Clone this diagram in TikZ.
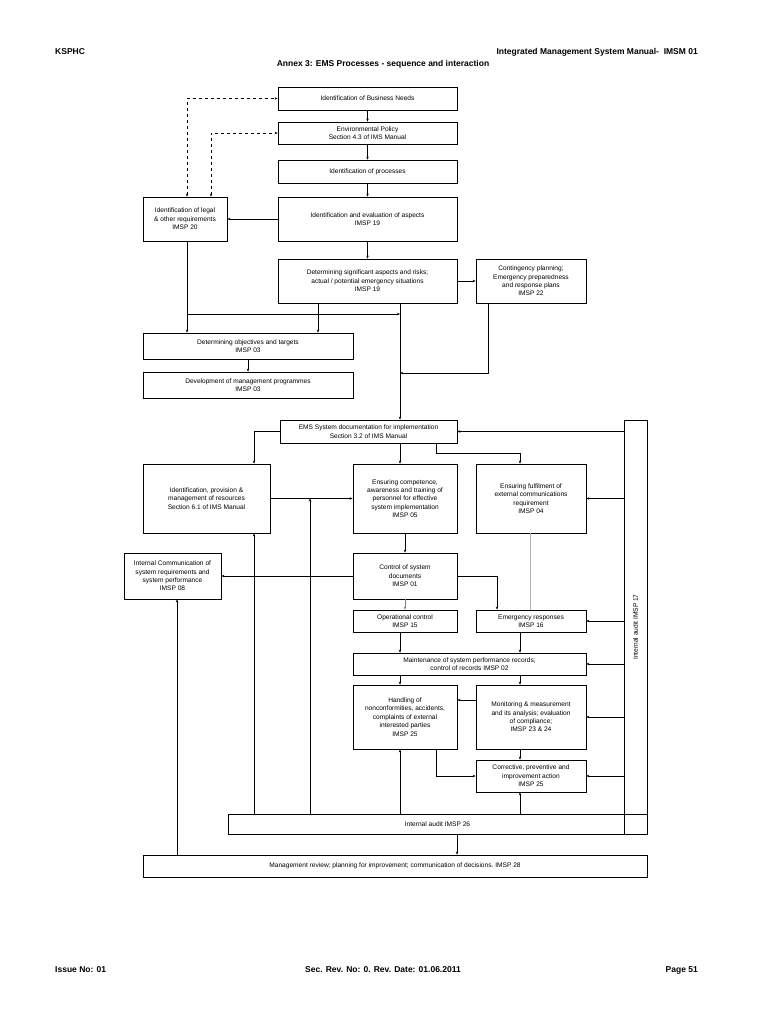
\documentclass[tikz,border=0pt]{standalone}
\usepackage{fontspec}
\setmainfont{Liberation Sans}
\usetikzlibrary{arrows.meta}

\tikzstyle{block}=[rectangle,
    draw=black,
    line width=0.8pt,
    inner sep=1pt,
    align=center,
    font=\fontsize{6.6}{8.4}\selectfont]
\tikzstyle{conn}=[draw,line width=0.7pt,-{Stealth[length=3pt,width=2.5pt]}]
\tikzstyle{dconn}=[conn,dashed,{Stealth[length=3pt,width=2.5pt]}-{Stealth[length=3pt,width=2.5pt]}]
\tikzstyle{head}=[font=\fontsize{8.5}{10}\selectfont\bfseries,inner sep=0pt]

\begin{document}
\begin{tikzpicture}[x=1pt,y=-1pt]
\useasboundingbox (0,0) rectangle (768,1024);
% header and footer
\node[head,anchor=west] (hl) at (55,52) {KSPHC};
\node[head,anchor=east] (hr) at (698,52) {Integrated Management System Manual-\ \ IMSM 01};
\node[head] (title) at (383,64) {Annex 3: EMS Processes - sequence and interaction};
\node[head,anchor=west] (fl) at (55,970) {Issue No: 01};
\node[head] (fc) at (383,970) {Sec. Rev. No: 0. Rev. Date: 01.06.2011};
\node[head,anchor=east] (fr) at (698,970) {Page 51};
% boxes
\node[block,minimum width=179,minimum height=23] (biz) at (367.5,98.5) {Identification of Business Needs};
\node[block,minimum width=179,minimum height=22] (pol) at (367.5,133) {Environmental Policy\\Section 4.3 of IMS Manual};
\node[block,minimum width=179,minimum height=23] (proc) at (367.5,171.5) {Identification of processes};
\node[block,minimum width=84,minimum height=44] (legal) at (185,219) {Identification of legal\\\& other requirements\\IMSP 20};
\node[block,minimum width=179,minimum height=44] (asp) at (367.5,219) {Identification and evaluation of aspects\\IMSP 19};
\node[block,minimum width=179,minimum height=44] (sig) at (367.5,281) {Determining significant aspects and risks;\\actual / potential emergency situations\\IMSP 19};
\node[block,minimum width=110,minimum height=44,inner sep=0pt] (cont) at (531,281) {Contingency planning;\\Emergency preparedness\\and response plans\\IMSP 22};
\node[block,minimum width=210,minimum height=26] (obj) at (248,346) {Determining objectives and targets\\IMSP 03};
\node[block,minimum width=210,minimum height=26] (dev) at (248,385) {Development of management programmes\\IMSP 03};
\node[block,minimum width=177,minimum height=23] (doc) at (368.5,431.5) {EMS System documentation for implementation\\Section 3.2 of IMS Manual};
\node[block,minimum width=127,minimum height=69] (res) at (206.5,498.5) {Identification, provision \&\\management of resources\\Section 6.1 of IMS Manual};
\node[block,minimum width=104,minimum height=69] (comp) at (405,498.5) {Ensuring competence,\\awareness and training of\\personnel for effective\\system implementation\\IMSP 05};
\node[block,minimum width=110,minimum height=69] (ext) at (531,498.5) {Ensuring fulfilment of\\external communications\\requirement\\IMSP 04};
\node[block,minimum width=97,minimum height=46] (ic) at (172.5,576) {Internal Communication of\\system requirements and\\system performance\\IMSP 08};
\node[block,minimum width=104,minimum height=46] (ctrl) at (405,576) {Control of system\\documents\\IMSP 01};
\node[block,minimum width=104,minimum height=22] (op) at (405,621) {Operational control\\IMSP 15};
\node[block,minimum width=110,minimum height=22] (emr) at (531,621) {Emergency responses\\IMSP 16};
\node[block,minimum width=233,minimum height=22] (maint) at (469.5,664) {Maintenance of system performance records;\\control of records IMSP 02};
\node[block,minimum width=104,minimum height=64,inner sep=0pt] (hand) at (405,717) {Handling of\\nonconformities, accidents,\\complaints of external\\interested parties\\IMSP 25};
\node[block,minimum width=110,minimum height=64] (mon) at (531,717) {Monitoring \& measurement\\and its analysis; evaluation\\of compliance;\\IMSP 23 \& 24};
\node[block,minimum width=110,minimum height=32] (corr) at (531,776) {Corrective, preventive and\\improvement action\\IMSP 25};
\node[block,minimum width=23,minimum height=414] (ia17) at (635.5,627) {};
\node[font=\fontsize{6.6}{8}\selectfont,rotate=90] (ia17t) at (635.5,627) {Internal audit IMSP 17};
\node[block,minimum width=419,minimum height=20] (ia26) at (437.5,824) {Internal audit IMSP 26};
\node[block,minimum width=504,minimum height=22] (mr) at (395,866) {Management review; planning for improvement; communication of decisions.\ IMSP 28};
% columns and rows for connectors
\coordinate (ca) at (177,0);
\coordinate (cb) at (187,0);
\coordinate (cc) at (211,0);
\coordinate (ce) at (254,0);
\coordinate (cf) at (310,0);
\coordinate (cg) at (318,0);
\coordinate (ch) at (400,0);
\coordinate (ci) at (436,0);
\coordinate (cn) at (457,0);
\coordinate (cm) at (488,0);
\coordinate (cj) at (497,0);
\coordinate (ck) at (520,0);
\coordinate (cl) at (530,0);
\coordinate (r314) at (0,314);
\coordinate (r373) at (0,373);
\coordinate (r453) at (0,453);
\coordinate (r700) at (0,700);
% connectors
\draw[dconn] (legal.north -| cb) |- (biz.west);
\draw[dconn] (legal.north -| cc) |- (pol.west);
\draw[conn] (biz) -- (pol);
\draw[conn] (pol) -- (proc);
\draw[conn] (proc) -- (asp);
\draw[conn] (asp) -- (sig);
\draw[conn,{Stealth[length=3pt,width=2.5pt]}-] (legal) -- (asp);
\draw[conn] (sig) -- (cont);
\draw[conn] (legal.south -| cb) -- (obj.north -| cb);
\draw[conn] (r314 -| cb) -- (r314 -| ch);
\draw[conn] (sig.south -| cg) -- (obj.north -| cg);
\draw[conn] (sig.south -| ch) -- (doc.north -| ch);
\draw[conn] (cont.south -| cm) |- (r373 -| ch);
\draw[conn] (obj) -- (dev);
\draw[conn] (doc.west) -| (res.north -| ce);
\draw[conn] (doc.south -| ch) -- (comp.north -| ch);
\draw[conn] (doc.south -| ci) -- (r453 -| ci) -| (ext.north -| ck);
\draw[conn] (ia17.west |- doc.east) -- (doc.east);
\draw[conn] (ia17.west |- ext.east) -- (ext.east);
\draw[conn] (res) -- (comp);
\draw[conn] (ia26.north -| cf) -- (res.east -| cf);
\draw[conn] (ia26.north -| ce) -- (res.south -| ce);
\draw[conn] (comp) -- (ctrl);
\draw[conn] (ctrl) -- (ic);
\draw[conn] (ctrl.east) -| (emr.north -| cj);
\draw[conn,draw=gray] (ctrl) -- (op);
\draw[line width=0.5pt,gray!60] (ext.south -| cl) -- (emr.north -| cl);
\draw[conn] (ia17.west |- emr.east) -- (emr.east);
\draw[conn] (op.south -| ch) -- (maint.north -| ch);
\draw[conn] (emr.south -| ck) -- (maint.north -| ck);
\draw[conn] (ia17.west |- maint.east) -- (maint.east);
\draw[conn] (maint.south -| ch) -- (hand.north -| ch);
\draw[conn] (maint.south -| ck) -- (mon.north -| ck);
\draw[conn,{Stealth[length=3pt,width=2.5pt]}-] (hand.east |- r700) -- (mon.west |- r700);
\draw[conn] (ia17.west |- mon.east) -- (mon.east);
\draw[conn] (mon.south -| ck) -- (corr.north -| ck);
\draw[conn] (hand.south -| ci) |- (corr.west);
\draw[conn] (ia17.west |- corr.east) -- (corr.east);
\draw[conn,{Stealth[length=3pt,width=2.5pt]}-] (corr.south -| ck) -- (ia26.north -| ck);
\draw[conn] (ia26.north -| ch) -- (hand.south -| ch);
\draw[conn] (ia26.south -| cn) -- (mr.north -| cn);
\draw[conn] (mr.north -| ca) -- (ic.south -| ca);
\end{tikzpicture}
\end{document}
